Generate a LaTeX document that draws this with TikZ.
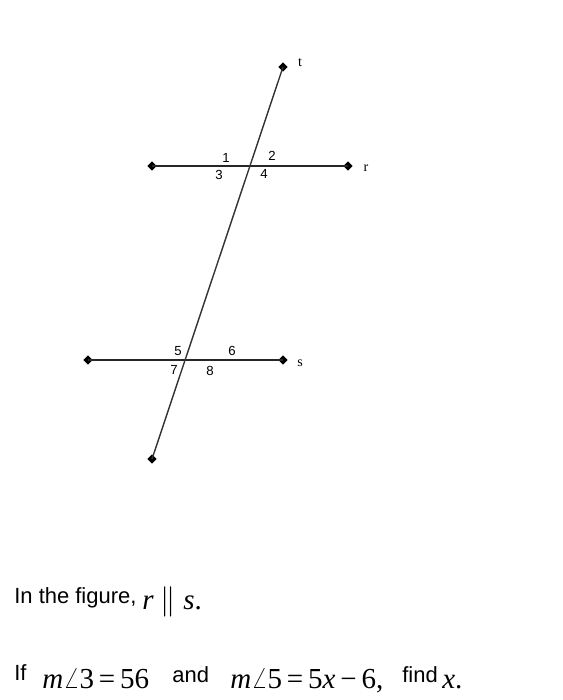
\documentclass[tikz,border=0pt]{standalone}
\usepackage{fontspec}
\setmainfont{Liberation Sans}
\newfontfamily\timesfont{Liberation Serif}
\usetikzlibrary{shapes.geometric}
\begin{document}
\begin{tikzpicture}[x=0.02cm,y=-0.02cm,
    endpt/.style={diamond,fill=black,inner sep=0pt,minimum size=5.5pt},
    num/.style={font=\fontsize{7.5}{9}\selectfont,inner sep=0pt},
    lname/.style={font=\timesfont\fontsize{8}{9}\selectfont,inner sep=0pt},
    txt/.style={anchor=base west,inner sep=0pt,font=\fontsize{12.5}{14}\selectfont},
    mth/.style={anchor=base west,inner sep=0pt,font=\timesfont\fontsize{16.5}{18}\selectfont}]
    \useasboundingbox (0,0) rectangle (562,700);
    % endpoints of the three lines
    \node[endpt] (ta) at (283,67) {};
    \node[endpt] (tb) at (152,459) {};
    \node[endpt] (ra) at (152,166) {};
    \node[endpt] (rb) at (348,166) {};
    \node[endpt] (sa) at (88,360) {};
    \node[endpt] (sb) at (283,360) {};
    \draw[line width=1pt,black!85] (ra.center) -- (rb.center);
    \draw[line width=1pt,black!85] (sa.center) -- (sb.center);
    \draw[line width=0.8pt,black!80] (ta.center) -- (tb.center);
    \node[lname] (tl) at (300,63) {t};
    \node[lname] (rl) at (366,168) {r};
    \node[lname] (sl) at (300,363) {s};
    % angle numbers
    \node[num] (n1) at (226,158) {1};
    \node[num] (n2) at (272,156) {2};
    \node[num] (n3) at (219,175) {3};
    \node[num] (n4) at (264,174) {4};
    \node[num] (n5) at (178,351) {5};
    \node[num] (n6) at (232,351) {6};
    \node[num] (n7) at (174,370) {7};
    \node[num] (n8) at (210,371) {8};
    % question
    \node[txt] (q1) at (14,603) {In the figure,};
    \node[mth] (par) at (142,609) {\itshape r \upshape$\|$ \itshape s\upshape .};
    \node[txt] (q2) at (14,680) {If};
    \node[mth] (eq1) at (42,688) {\itshape m\upshape$\angle$3\,=\,56};
    \node[txt] (q3) at (172,682) {and};
    \node[mth] (eq2) at (230,688) {\itshape m\upshape$\angle$5\,=\,5\itshape x\upshape\,−\,6,};
    \node[txt] (q4) at (402,682) {find};
    \node[mth] (eq3) at (442,688) {\itshape x\upshape .};
\end{tikzpicture}
\end{document}
